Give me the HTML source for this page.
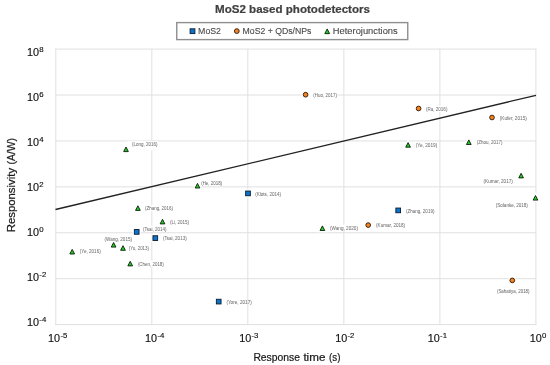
<!DOCTYPE html>
<html><head><meta charset="utf-8"><title>MoS2 based photodetectors</title>
<style>
html,body{margin:0;padding:0;background:#fff;}
body{width:550px;height:365px;overflow:hidden;}
svg{display:block;font-family:"Liberation Sans", sans-serif;}
</style></head>
<body>
<svg width="550" height="365" viewBox="0 0 550 365">
<rect x="0" y="0" width="550" height="365" fill="#fff"/>
<line x1="55.30" y1="49.10" x2="536.40" y2="49.10" stroke="#e0e0e0" stroke-width="1"/>
<line x1="55.30" y1="95.02" x2="536.40" y2="95.02" stroke="#e0e0e0" stroke-width="1"/>
<line x1="55.30" y1="140.94" x2="536.40" y2="140.94" stroke="#e0e0e0" stroke-width="1"/>
<line x1="55.30" y1="186.86" x2="536.40" y2="186.86" stroke="#e0e0e0" stroke-width="1"/>
<line x1="55.30" y1="232.78" x2="536.40" y2="232.78" stroke="#e0e0e0" stroke-width="1"/>
<line x1="55.30" y1="278.70" x2="536.40" y2="278.70" stroke="#e0e0e0" stroke-width="1"/>
<line x1="55.30" y1="324.62" x2="536.40" y2="324.62" stroke="#e0e0e0" stroke-width="1"/>
<line x1="55.80" y1="48.60" x2="55.80" y2="325.12" stroke="#e0e0e0" stroke-width="1"/>
<line x1="151.82" y1="48.60" x2="151.82" y2="325.12" stroke="#e0e0e0" stroke-width="1"/>
<line x1="247.84" y1="48.60" x2="247.84" y2="325.12" stroke="#e0e0e0" stroke-width="1"/>
<line x1="343.86" y1="48.60" x2="343.86" y2="325.12" stroke="#e0e0e0" stroke-width="1"/>
<line x1="439.88" y1="48.60" x2="439.88" y2="325.12" stroke="#e0e0e0" stroke-width="1"/>
<line x1="535.90" y1="48.60" x2="535.90" y2="325.12" stroke="#e0e0e0" stroke-width="1"/>
<line x1="55.5" y1="209.5" x2="536" y2="95.3" stroke="#222" stroke-width="1.3"/>
<rect x="250.30" y="190.60" width="31.20" height="6.20" fill="#fff"/>
<rect x="138.00" y="225.80" width="28.90" height="6.20" fill="#fff"/>
<rect x="158.00" y="235.50" width="29.20" height="6.20" fill="#fff"/>
<rect x="401.10" y="207.60" width="33.80" height="6.20" fill="#fff"/>
<rect x="308.20" y="92.20" width="29.20" height="6.20" fill="#fff"/>
<rect x="421.00" y="105.90" width="26.90" height="6.20" fill="#fff"/>
<rect x="494.80" y="114.70" width="32.50" height="6.20" fill="#fff"/>
<rect x="371.10" y="222.00" width="34.50" height="6.20" fill="#fff"/>
<rect x="491.90" y="288.30" width="38.20" height="6.20" fill="#fff"/>
<rect x="127.00" y="141.00" width="31.00" height="9.50" fill="#fff"/>
<rect x="196.20" y="179.80" width="26.40" height="6.20" fill="#fff"/>
<rect x="140.00" y="205.00" width="33.50" height="6.20" fill="#fff"/>
<rect x="165.00" y="218.60" width="24.50" height="6.20" fill="#fff"/>
<rect x="74.80" y="248.30" width="26.40" height="6.20" fill="#fff"/>
<rect x="99.50" y="235.80" width="33.00" height="6.20" fill="#fff"/>
<rect x="123.70" y="245.00" width="25.80" height="6.20" fill="#fff"/>
<rect x="132.90" y="260.60" width="31.40" height="6.20" fill="#fff"/>
<rect x="325.00" y="224.70" width="33.50" height="6.20" fill="#fff"/>
<rect x="410.70" y="141.90" width="27.10" height="6.20" fill="#fff"/>
<rect x="471.70" y="138.70" width="31.40" height="6.20" fill="#fff"/>
<rect x="478.50" y="177.70" width="34.90" height="6.20" fill="#fff"/>
<rect x="490.80" y="201.90" width="37.50" height="6.20" fill="#fff"/>
<rect x="245.65" y="191.05" width="4.70" height="4.70" fill="#fff" stroke="#fff" stroke-width="3.30"/>
<rect x="134.35" y="229.55" width="4.70" height="4.70" fill="#fff" stroke="#fff" stroke-width="3.30"/>
<rect x="152.95" y="235.75" width="4.70" height="4.70" fill="#fff" stroke="#fff" stroke-width="3.30"/>
<rect x="216.35" y="299.25" width="4.70" height="4.70" fill="#fff" stroke="#fff" stroke-width="3.30"/>
<rect x="395.85" y="208.05" width="4.70" height="4.70" fill="#fff" stroke="#fff" stroke-width="3.30"/>
<circle cx="305.60" cy="94.70" r="2.35" fill="#fff" stroke="#fff" stroke-width="3.30"/>
<circle cx="418.60" cy="108.50" r="2.35" fill="#fff" stroke="#fff" stroke-width="3.30"/>
<circle cx="492.00" cy="117.50" r="2.35" fill="#fff" stroke="#fff" stroke-width="3.30"/>
<circle cx="368.20" cy="225.10" r="2.35" fill="#fff" stroke="#fff" stroke-width="3.30"/>
<circle cx="512.30" cy="280.40" r="2.35" fill="#fff" stroke="#fff" stroke-width="3.30"/>
<path d="M126.00 147.00L128.35 151.60L123.65 151.60Z" fill="#fff" stroke="#fff" stroke-width="3.30" stroke-linejoin="miter"/>
<path d="M197.50 183.40L199.85 188.00L195.15 188.00Z" fill="#fff" stroke="#fff" stroke-width="3.30" stroke-linejoin="miter"/>
<path d="M137.90 205.80L140.25 210.40L135.55 210.40Z" fill="#fff" stroke="#fff" stroke-width="3.30" stroke-linejoin="miter"/>
<path d="M162.50 219.30L164.85 223.90L160.15 223.90Z" fill="#fff" stroke="#fff" stroke-width="3.30" stroke-linejoin="miter"/>
<path d="M72.20 249.40L74.55 254.00L69.85 254.00Z" fill="#fff" stroke="#fff" stroke-width="3.30" stroke-linejoin="miter"/>
<path d="M113.60 242.50L115.95 247.10L111.25 247.10Z" fill="#fff" stroke="#fff" stroke-width="3.30" stroke-linejoin="miter"/>
<path d="M123.00 245.70L125.35 250.30L120.65 250.30Z" fill="#fff" stroke="#fff" stroke-width="3.30" stroke-linejoin="miter"/>
<path d="M130.20 261.30L132.55 265.90L127.85 265.90Z" fill="#fff" stroke="#fff" stroke-width="3.30" stroke-linejoin="miter"/>
<path d="M322.40 225.90L324.75 230.50L320.05 230.50Z" fill="#fff" stroke="#fff" stroke-width="3.30" stroke-linejoin="miter"/>
<path d="M408.10 142.60L410.45 147.20L405.75 147.20Z" fill="#fff" stroke="#fff" stroke-width="3.30" stroke-linejoin="miter"/>
<path d="M468.80 139.90L471.15 144.50L466.45 144.50Z" fill="#fff" stroke="#fff" stroke-width="3.30" stroke-linejoin="miter"/>
<path d="M521.10 173.30L523.45 177.90L518.75 177.90Z" fill="#fff" stroke="#fff" stroke-width="3.30" stroke-linejoin="miter"/>
<path d="M535.50 195.50L537.85 200.10L533.15 200.10Z" fill="#fff" stroke="#fff" stroke-width="3.30" stroke-linejoin="miter"/>
<rect x="245.65" y="191.05" width="4.70" height="4.70" fill="#0a74cc" stroke="#0a1a30" stroke-width="0.9"/>
<text x="255.30" y="195.53" font-size="5.3" fill="#707070" stroke="#707070" stroke-width="0.04" textLength="25.70" lengthAdjust="spacingAndGlyphs">(Klots, 2014)</text>
<rect x="134.35" y="229.55" width="4.70" height="4.70" fill="#0a74cc" stroke="#0a1a30" stroke-width="0.9"/>
<text x="143.00" y="230.73" font-size="5.3" fill="#707070" stroke="#707070" stroke-width="0.04" textLength="23.40" lengthAdjust="spacingAndGlyphs">(Tsai, 2014)</text>
<rect x="152.95" y="235.75" width="4.70" height="4.70" fill="#0a74cc" stroke="#0a1a30" stroke-width="0.9"/>
<text x="163.00" y="240.43" font-size="5.3" fill="#707070" stroke="#707070" stroke-width="0.04" textLength="23.70" lengthAdjust="spacingAndGlyphs">(Tsai, 2013)</text>
<rect x="216.35" y="299.25" width="4.70" height="4.70" fill="#0a74cc" stroke="#0a1a30" stroke-width="0.9"/>
<text x="226.40" y="303.73" font-size="5.3" fill="#707070" stroke="#707070" stroke-width="0.04" textLength="25.40" lengthAdjust="spacingAndGlyphs">(Yore, 2017)</text>
<rect x="395.85" y="208.05" width="4.70" height="4.70" fill="#0a74cc" stroke="#0a1a30" stroke-width="0.9"/>
<text x="406.10" y="212.53" font-size="5.3" fill="#707070" stroke="#707070" stroke-width="0.04" textLength="28.30" lengthAdjust="spacingAndGlyphs">(Zhang, 2019)</text>
<circle cx="305.60" cy="94.70" r="2.35" fill="#f5821f" stroke="#2a1505" stroke-width="0.9"/>
<text x="313.20" y="97.13" font-size="5.3" fill="#707070" stroke="#707070" stroke-width="0.04" textLength="23.70" lengthAdjust="spacingAndGlyphs">(Huo, 2017)</text>
<circle cx="418.60" cy="108.50" r="2.35" fill="#f5821f" stroke="#2a1505" stroke-width="0.9"/>
<text x="426.00" y="110.83" font-size="5.3" fill="#707070" stroke="#707070" stroke-width="0.04" textLength="21.40" lengthAdjust="spacingAndGlyphs">(Ra, 2016)</text>
<circle cx="492.00" cy="117.50" r="2.35" fill="#f5821f" stroke="#2a1505" stroke-width="0.9"/>
<text x="499.80" y="119.63" font-size="5.3" fill="#707070" stroke="#707070" stroke-width="0.04" textLength="27.00" lengthAdjust="spacingAndGlyphs">(Kufer, 2015)</text>
<circle cx="368.20" cy="225.10" r="2.35" fill="#f5821f" stroke="#2a1505" stroke-width="0.9"/>
<text x="376.10" y="226.93" font-size="5.3" fill="#707070" stroke="#707070" stroke-width="0.04" textLength="29.00" lengthAdjust="spacingAndGlyphs">(Kumar, 2018)</text>
<circle cx="512.30" cy="280.40" r="2.35" fill="#f5821f" stroke="#2a1505" stroke-width="0.9"/>
<text x="496.90" y="293.23" font-size="5.3" fill="#707070" stroke="#707070" stroke-width="0.04" textLength="32.70" lengthAdjust="spacingAndGlyphs">(Sahatiya, 2018)</text>
<path d="M126.00 147.00L128.35 151.60L123.65 151.60Z" fill="#26c826" stroke="#082008" stroke-width="0.9" stroke-linejoin="miter"/>
<text x="132.00" y="145.93" font-size="5.3" fill="#707070" stroke="#707070" stroke-width="0.04" textLength="25.50" lengthAdjust="spacingAndGlyphs">(Long, 2016)</text>
<path d="M197.50 183.40L199.85 188.00L195.15 188.00Z" fill="#26c826" stroke="#082008" stroke-width="0.9" stroke-linejoin="miter"/>
<text x="201.20" y="184.73" font-size="5.3" fill="#707070" stroke="#707070" stroke-width="0.04" textLength="20.90" lengthAdjust="spacingAndGlyphs">(He, 2018)</text>
<path d="M137.90 205.80L140.25 210.40L135.55 210.40Z" fill="#26c826" stroke="#082008" stroke-width="0.9" stroke-linejoin="miter"/>
<text x="145.00" y="209.93" font-size="5.3" fill="#707070" stroke="#707070" stroke-width="0.04" textLength="28.00" lengthAdjust="spacingAndGlyphs">(Zhang, 2016)</text>
<path d="M162.50 219.30L164.85 223.90L160.15 223.90Z" fill="#26c826" stroke="#082008" stroke-width="0.9" stroke-linejoin="miter"/>
<text x="170.00" y="223.53" font-size="5.3" fill="#707070" stroke="#707070" stroke-width="0.04" textLength="19.00" lengthAdjust="spacingAndGlyphs">(Li, 2015)</text>
<path d="M72.20 249.40L74.55 254.00L69.85 254.00Z" fill="#26c826" stroke="#082008" stroke-width="0.9" stroke-linejoin="miter"/>
<text x="79.80" y="253.23" font-size="5.3" fill="#707070" stroke="#707070" stroke-width="0.04" textLength="20.90" lengthAdjust="spacingAndGlyphs">(Ye, 2016)</text>
<path d="M113.60 242.50L115.95 247.10L111.25 247.10Z" fill="#26c826" stroke="#082008" stroke-width="0.9" stroke-linejoin="miter"/>
<text x="104.50" y="240.73" font-size="5.3" fill="#707070" stroke="#707070" stroke-width="0.04" textLength="27.50" lengthAdjust="spacingAndGlyphs">(Wang, 2015)</text>
<path d="M123.00 245.70L125.35 250.30L120.65 250.30Z" fill="#26c826" stroke="#082008" stroke-width="0.9" stroke-linejoin="miter"/>
<text x="128.70" y="249.93" font-size="5.3" fill="#707070" stroke="#707070" stroke-width="0.04" textLength="20.30" lengthAdjust="spacingAndGlyphs">(Yu, 2013)</text>
<path d="M130.20 261.30L132.55 265.90L127.85 265.90Z" fill="#26c826" stroke="#082008" stroke-width="0.9" stroke-linejoin="miter"/>
<text x="137.90" y="265.53" font-size="5.3" fill="#707070" stroke="#707070" stroke-width="0.04" textLength="25.90" lengthAdjust="spacingAndGlyphs">(Chen, 2018)</text>
<path d="M322.40 225.90L324.75 230.50L320.05 230.50Z" fill="#26c826" stroke="#082008" stroke-width="0.9" stroke-linejoin="miter"/>
<text x="330.00" y="229.63" font-size="5.3" fill="#707070" stroke="#707070" stroke-width="0.04" textLength="28.00" lengthAdjust="spacingAndGlyphs">(Wang, 2020)</text>
<path d="M408.10 142.60L410.45 147.20L405.75 147.20Z" fill="#26c826" stroke="#082008" stroke-width="0.9" stroke-linejoin="miter"/>
<text x="415.70" y="146.83" font-size="5.3" fill="#707070" stroke="#707070" stroke-width="0.04" textLength="21.60" lengthAdjust="spacingAndGlyphs">(Ye, 2019)</text>
<path d="M468.80 139.90L471.15 144.50L466.45 144.50Z" fill="#26c826" stroke="#082008" stroke-width="0.9" stroke-linejoin="miter"/>
<text x="476.70" y="143.63" font-size="5.3" fill="#707070" stroke="#707070" stroke-width="0.04" textLength="25.90" lengthAdjust="spacingAndGlyphs">(Zhou, 2017)</text>
<path d="M521.10 173.30L523.45 177.90L518.75 177.90Z" fill="#26c826" stroke="#082008" stroke-width="0.9" stroke-linejoin="miter"/>
<text x="483.50" y="182.63" font-size="5.3" fill="#707070" stroke="#707070" stroke-width="0.04" textLength="29.40" lengthAdjust="spacingAndGlyphs">(Kumar, 2017)</text>
<path d="M535.50 195.50L537.85 200.10L533.15 200.10Z" fill="#26c826" stroke="#082008" stroke-width="0.9" stroke-linejoin="miter"/>
<text x="495.80" y="206.83" font-size="5.3" fill="#707070" stroke="#707070" stroke-width="0.04" textLength="32.00" lengthAdjust="spacingAndGlyphs">(Solanke, 2018)</text>
<text x="27.0" y="55.97" font-size="10.8" fill="#111" stroke="#111" stroke-width="0.15">10</text>
<text x="39.3" y="51.87" font-size="7.8" fill="#111" stroke="#111" stroke-width="0.15">8</text>
<text x="27.0" y="100.97" font-size="10.8" fill="#111" stroke="#111" stroke-width="0.15">10</text>
<text x="39.3" y="96.87" font-size="7.8" fill="#111" stroke="#111" stroke-width="0.15">6</text>
<text x="27.0" y="145.97" font-size="10.8" fill="#111" stroke="#111" stroke-width="0.15">10</text>
<text x="39.3" y="141.87" font-size="7.8" fill="#111" stroke="#111" stroke-width="0.15">4</text>
<text x="27.0" y="190.97" font-size="10.8" fill="#111" stroke="#111" stroke-width="0.15">10</text>
<text x="39.3" y="186.87" font-size="7.8" fill="#111" stroke="#111" stroke-width="0.15">2</text>
<text x="27.0" y="235.97" font-size="10.8" fill="#111" stroke="#111" stroke-width="0.15">10</text>
<text x="39.3" y="231.87" font-size="7.8" fill="#111" stroke="#111" stroke-width="0.15">0</text>
<text x="27.0" y="280.97" font-size="10.8" fill="#111" stroke="#111" stroke-width="0.15">10</text>
<text x="39.3" y="276.87" font-size="7.8" fill="#111" stroke="#111" stroke-width="0.15">-2</text>
<text x="27.0" y="325.97" font-size="10.8" fill="#111" stroke="#111" stroke-width="0.15">10</text>
<text x="39.3" y="321.87" font-size="7.8" fill="#111" stroke="#111" stroke-width="0.15">-4</text>
<text x="48.10" y="341.67" font-size="10.8" fill="#111" stroke="#111" stroke-width="0.15">10</text>
<text x="60.40" y="337.67" font-size="7.8" fill="#111" stroke="#111" stroke-width="0.15">-5</text>
<text x="145.10" y="341.67" font-size="10.8" fill="#111" stroke="#111" stroke-width="0.15">10</text>
<text x="157.40" y="337.67" font-size="7.8" fill="#111" stroke="#111" stroke-width="0.15">-4</text>
<text x="239.20" y="341.67" font-size="10.8" fill="#111" stroke="#111" stroke-width="0.15">10</text>
<text x="251.50" y="337.67" font-size="7.8" fill="#111" stroke="#111" stroke-width="0.15">-3</text>
<text x="335.20" y="341.67" font-size="10.8" fill="#111" stroke="#111" stroke-width="0.15">10</text>
<text x="347.50" y="337.67" font-size="7.8" fill="#111" stroke="#111" stroke-width="0.15">-2</text>
<text x="427.80" y="341.67" font-size="10.8" fill="#111" stroke="#111" stroke-width="0.15">10</text>
<text x="440.10" y="337.67" font-size="7.8" fill="#111" stroke="#111" stroke-width="0.15">-1</text>
<text x="529.70" y="341.67" font-size="10.8" fill="#111" stroke="#111" stroke-width="0.15">10</text>
<text x="542.00" y="337.67" font-size="7.8" fill="#111" stroke="#111" stroke-width="0.15">0</text>
<text x="253.4" y="360.7" font-size="10.6" fill="#1a1a1a" stroke="#1a1a1a" stroke-width="0.22"><tspan textLength="46.6" lengthAdjust="spacingAndGlyphs">Response</tspan> <tspan x="303.4" textLength="22.0" lengthAdjust="spacingAndGlyphs">time</tspan> <tspan x="329.0" textLength="11.4" lengthAdjust="spacingAndGlyphs">(s)</tspan></text>
<text transform="translate(15.3 232.3) rotate(-90)" x="0" y="0" font-size="11" fill="#1a1a1a" stroke="#1a1a1a" stroke-width="0.22"><tspan textLength="64.4" lengthAdjust="spacingAndGlyphs">Responsivity</tspan> <tspan x="67.8" textLength="26.4" lengthAdjust="spacingAndGlyphs">(A/W)</tspan></text>
<text x="215" y="12.8" font-size="10.7" font-weight="bold" fill="#404040" stroke="#404040" stroke-width="0.2" textLength="155" lengthAdjust="spacingAndGlyphs">MoS2 based photodetectors</text>
<rect x="176.75" y="22.6" width="231" height="17" fill="#fff" stroke="#8f8f8f" stroke-width="1.4"/>

<rect x="190.10" y="28.80" width="4.80" height="4.80" fill="#0a74cc" stroke="#0a1a30" stroke-width="0.9"/>
<text x="198.1" y="34.4" font-size="8.9" fill="#4a4a4a" stroke="#4a4a4a" stroke-width="0.12" textLength="22.9" lengthAdjust="spacingAndGlyphs">MoS2</text>
<circle cx="236.80" cy="31.10" r="2.40" fill="#f5821f" stroke="#2a1505" stroke-width="0.9"/>
<text x="242.6" y="34.4" font-size="8.9" fill="#4a4a4a" stroke="#4a4a4a" stroke-width="0.12" textLength="68.8" lengthAdjust="spacingAndGlyphs">MoS2 + QDs/NPs</text>
<path d="M327.20 28.95L329.60 33.65L324.80 33.65Z" fill="#26c826" stroke="#082008" stroke-width="0.9" stroke-linejoin="miter"/>
<text x="332.8" y="34.4" font-size="8.9" fill="#4a4a4a" stroke="#4a4a4a" stroke-width="0.12" textLength="64.9" lengthAdjust="spacingAndGlyphs">Heterojunctions</text>
</svg>
</body></html>
